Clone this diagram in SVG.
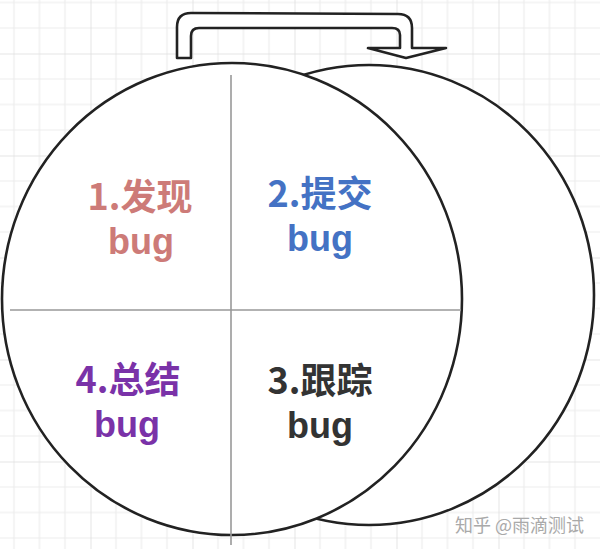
<svg xmlns="http://www.w3.org/2000/svg" width="600" height="549" viewBox="0 0 600 549">
  <defs>
    <pattern id="grid" patternUnits="userSpaceOnUse" x="-11.5" y="-48.5" width="102" height="102">
      <path d="M25.5,0 V102 M51,0 V102 M76.5,0 V102 M0,25.5 H102 M0,51 H102 M0,76.5 H102" stroke="#ececec" stroke-width="1.2" fill="none"/>
      <path d="M0,0 V102 M0,0 H102" stroke="#dedede" stroke-width="1.6" fill="none"/>
    </pattern>
  </defs>
  <style>
    .ring { fill: #ffffff; stroke: #222222; stroke-width: 2.6; }
    .divider { stroke: #999999; stroke-width: 1.6; fill: none; }
    .lbl { font-family: "Noto Sans CJK SC", "Noto Sans", sans-serif; font-weight: bold; font-size: 36px; text-anchor: middle; }
    .bug { font-family: "Liberation Sans", Arial, sans-serif; font-weight: bold; font-size: 36px; text-anchor: middle; }
    .red { fill: #cd7b78; }
    .blue { fill: #4472c4; }
    .dark { fill: #333333; }
    .purple { fill: #7a32a8; }
    .wm { font-family: "Noto Sans CJK SC", "Noto Sans", sans-serif; font-size: 18px; fill: #a9a9a9; }
  </style>
  <rect x="0" y="0" width="600" height="549" fill="#ffffff"/>
  <rect x="0" y="0" width="600" height="549" fill="url(#grid)"/>

  <g id="back-circle">
    <ellipse class="ring" cx="369" cy="295" rx="225" ry="230"/>
  </g>
  <g id="front-circle">
    <ellipse class="ring" cx="232" cy="299" rx="230" ry="236"/>
    <line class="divider" x1="231" y1="75" x2="231" y2="545"/>
    <line class="divider" x1="10" y1="310" x2="461" y2="310"/>
  </g>

  <g id="q1">
    <text class="lbl red" x="140" y="210">1.发现</text>
    <text class="bug red" x="141" y="253.5">bug</text>
  </g>
  <g id="q2">
    <text class="lbl blue" x="320" y="207">2.提交</text>
    <text class="bug blue" x="320" y="250.5">bug</text>
  </g>
  <g id="q3">
    <text class="lbl dark" x="320" y="394">3.跟踪</text>
    <text class="bug dark" x="320" y="438">bug</text>
  </g>
  <g id="q4">
    <text class="lbl purple" x="128" y="393">4.总结</text>
    <text class="bug purple" x="127" y="437">bug</text>
  </g>

  <g id="connectors">
    <path d="M177,58 L177,27 Q177,13 191,13 L398,14 Q412,14 412,28 L412,48 L446,48 L406,58 L368,48 L400,48 L400,35 Q400,28 392,28 L199,28 Q191,28 191,36 L191,58 Z" fill="#ffffff" stroke="#222222" stroke-width="2.6" stroke-linejoin="round"/>
  </g>

  <text class="wm" x="455" y="532">知乎 @雨滴测试</text>
</svg>
